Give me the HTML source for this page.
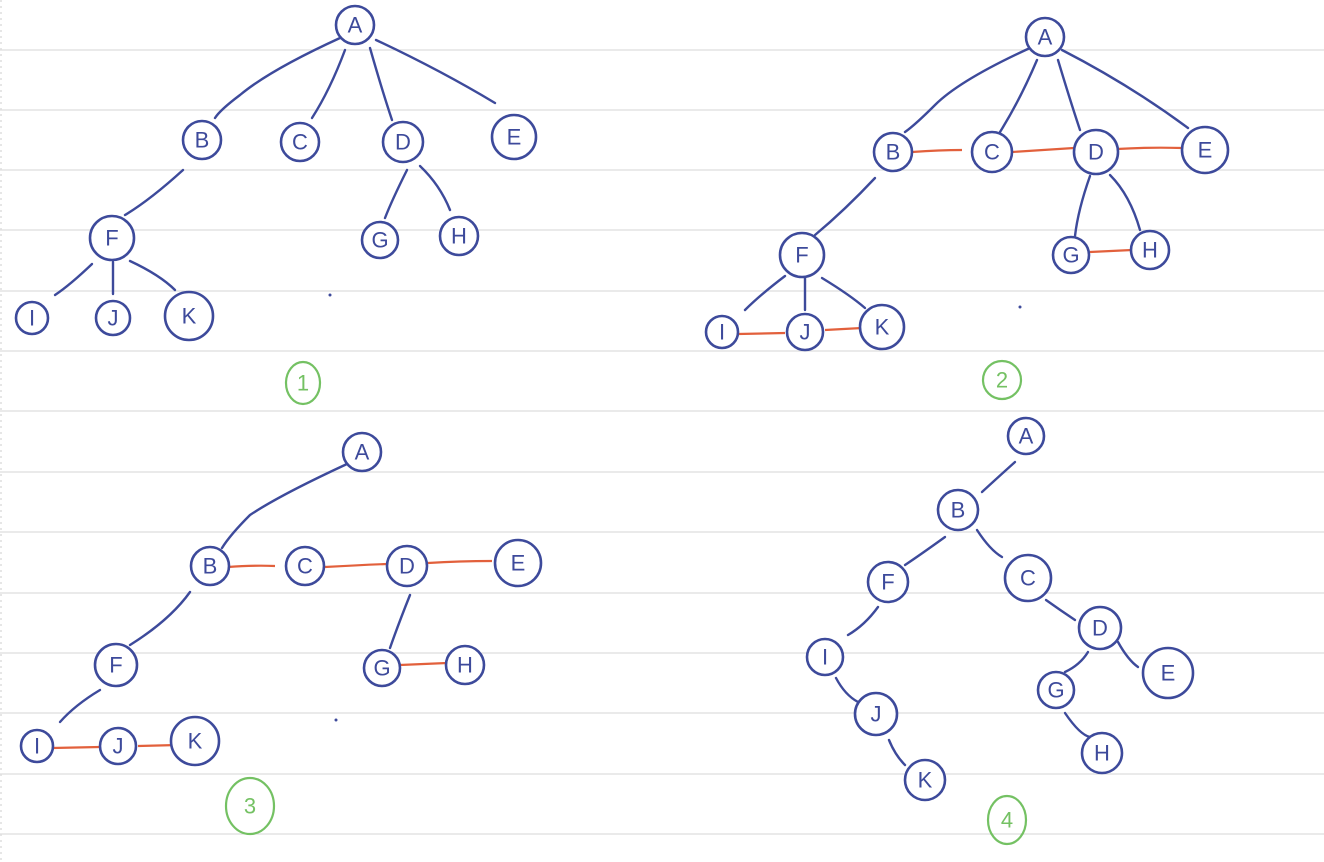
<!DOCTYPE html>
<html><head><meta charset="utf-8"><style>
html,body{margin:0;padding:0;background:#fff;}
svg{display:block}
.n{fill:#fff;stroke:#3d4a9b;stroke-width:2.6}
.e{stroke:#3d4a9b;stroke-width:2.4;fill:none;stroke-linecap:round}
.r{stroke:#e2603c;stroke-width:2.2;fill:none}
.t{font-family:"Liberation Sans",sans-serif;font-size:22px;fill:#3d4a9b;text-anchor:middle;dominant-baseline:central}
.g{fill:none;stroke:#74c163;stroke-width:2.2}
.gt{font-family:"Liberation Sans",sans-serif;font-size:22px;fill:#74c163;text-anchor:middle;dominant-baseline:central}
.h{stroke:#dedede;stroke-width:1.2}
</style></head><body>
<svg width="1324" height="862" viewBox="0 0 1324 862">
<line x1="1" y1="0" x2="1" y2="862" stroke="#ccc" stroke-width="1" stroke-dasharray="2,4"/>
<g class="h">
<line x1="0" y1="50" x2="1324" y2="50"/><line x1="0" y1="110" x2="1324" y2="110"/>
<line x1="0" y1="170" x2="1324" y2="170"/><line x1="0" y1="230" x2="1324" y2="230"/>
<line x1="0" y1="291" x2="1324" y2="291"/><line x1="0" y1="351" x2="1324" y2="351"/>
<line x1="0" y1="411" x2="1324" y2="411"/><line x1="0" y1="472" x2="1324" y2="472"/>
<line x1="0" y1="532" x2="1324" y2="532"/><line x1="0" y1="593" x2="1324" y2="593"/>
<line x1="0" y1="653" x2="1324" y2="653"/><line x1="0" y1="713" x2="1324" y2="713"/>
<line x1="0" y1="774" x2="1324" y2="774"/><line x1="0" y1="834" x2="1324" y2="834"/>
</g>
<!-- panel 1 -->
<g class="e">
<path d="M340 38 Q270 70 240 95 Q220 110 215 118"/>
<path d="M345 50 Q330 90 312 118"/>
<path d="M370 48 Q382 90 392 120"/>
<path d="M376 40 Q440 70 495 103"/>
<path d="M183 170 Q150 200 125 215"/>
<path d="M407 170 Q392 200 385 218"/>
<path d="M420 166 Q440 185 450 210"/>
<path d="M92 264 Q70 285 55 295"/>
<path d="M113 262 L113 294"/>
<path d="M130 261 Q160 275 175 290"/>
</g>
<g>
<circle class="n" cx="355" cy="25" r="19"/><text class="t" x="355" y="25">A</text>
<circle class="n" cx="202" cy="140" r="19"/><text class="t" x="202" y="140">B</text>
<circle class="n" cx="300" cy="142" r="19"/><text class="t" x="300" y="142">C</text>
<circle class="n" cx="403" cy="142" r="20"/><text class="t" x="403" y="142">D</text>
<circle class="n" cx="514" cy="137" r="22"/><text class="t" x="514" y="137">E</text>
<circle class="n" cx="112" cy="238" r="22"/><text class="t" x="112" y="238">F</text>
<circle class="n" cx="380" cy="240" r="18"/><text class="t" x="380" y="240">G</text>
<circle class="n" cx="459" cy="236" r="19"/><text class="t" x="459" y="236">H</text>
<circle class="n" cx="32" cy="318" r="16"/><text class="t" x="32" y="318">I</text>
<circle class="n" cx="113" cy="318" r="17"/><text class="t" x="113" y="318">J</text>
<circle class="n" cx="189" cy="316" r="24"/><text class="t" x="189" y="316">K</text>
</g>
<ellipse class="g" cx="303" cy="383" rx="17" ry="21"/><text class="gt" x="303" y="383">1</text>
<!-- panel 2 -->
<g class="e">
<path d="M1030 48 Q960 80 935 105 Q915 125 905 132"/>
<path d="M1037 60 Q1020 100 1000 132"/>
<path d="M1058 60 Q1070 100 1080 130"/>
<path d="M1062 50 Q1130 85 1188 128"/>
<path d="M875 178 Q845 210 815 235"/>
<path d="M1090 176 Q1078 210 1075 236"/>
<path d="M1110 175 Q1130 195 1140 230"/>
<path d="M785 276 Q760 295 745 310"/>
<path d="M805 278 L805 310"/>
<path d="M822 278 Q850 295 865 308"/>
</g>
<g class="r">
<path d="M912 152 Q940 150 962 150"/><path d="M1012 152 Q1045 150 1074 148"/>
<path d="M1117 149 Q1150 147 1182 148"/><path d="M1090 252 L1132 250"/>
<path d="M738 334 L785 333"/><path d="M825 330 L862 328"/>
</g>
<g>
<circle class="n" cx="1045" cy="37" r="19"/><text class="t" x="1045" y="37">A</text>
<circle class="n" cx="893" cy="152" r="19"/><text class="t" x="893" y="152">B</text>
<circle class="n" cx="992" cy="152" r="20"/><text class="t" x="992" y="152">C</text>
<circle class="n" cx="1096" cy="152" r="22"/><text class="t" x="1096" y="152">D</text>
<circle class="n" cx="1205" cy="150" r="23"/><text class="t" x="1205" y="150">E</text>
<circle class="n" cx="802" cy="255" r="22"/><text class="t" x="802" y="255">F</text>
<circle class="n" cx="1071" cy="255" r="18"/><text class="t" x="1071" y="255">G</text>
<circle class="n" cx="1150" cy="250" r="19"/><text class="t" x="1150" y="250">H</text>
<circle class="n" cx="722" cy="332" r="16"/><text class="t" x="722" y="332">I</text>
<circle class="n" cx="805" cy="332" r="18"/><text class="t" x="805" y="332">J</text>
<circle class="n" cx="882" cy="327" r="22"/><text class="t" x="882" y="327">K</text>
</g>
<ellipse class="g" cx="1002" cy="380" rx="19" ry="19"/><text class="gt" x="1002" y="380">2</text>
<!-- panel 3 -->
<g class="e">
<path d="M347 464 Q280 495 250 515 Q230 535 222 548"/>
<path d="M190 592 Q170 620 130 645"/>
<path d="M100 690 Q75 705 60 722"/>
<path d="M410 595 Q398 625 390 648"/>
</g>
<g class="r">
<path d="M228 567 Q255 565 275 566"/><path d="M325 567 Q360 565 387 564"/>
<path d="M428 563 Q460 561 492 561"/><path d="M400 665 L447 663"/>
<path d="M52 748 L100 747"/><path d="M138 746 L178 745"/>
</g>
<g>
<circle class="n" cx="362" cy="452" r="19"/><text class="t" x="362" y="452">A</text>
<circle class="n" cx="210" cy="566" r="19"/><text class="t" x="210" y="566">B</text>
<circle class="n" cx="305" cy="566" r="19"/><text class="t" x="305" y="566">C</text>
<circle class="n" cx="407" cy="566" r="20"/><text class="t" x="407" y="566">D</text>
<circle class="n" cx="518" cy="563" r="23"/><text class="t" x="518" y="563">E</text>
<circle class="n" cx="116" cy="665" r="21"/><text class="t" x="116" y="665">F</text>
<circle class="n" cx="382" cy="668" r="18"/><text class="t" x="382" y="668">G</text>
<circle class="n" cx="465" cy="665" r="19"/><text class="t" x="465" y="665">H</text>
<circle class="n" cx="37" cy="746" r="16"/><text class="t" x="37" y="746">I</text>
<circle class="n" cx="118" cy="746" r="18"/><text class="t" x="118" y="746">J</text>
<circle class="n" cx="195" cy="741" r="24"/><text class="t" x="195" y="741">K</text>
</g>
<ellipse class="g" cx="250" cy="806" rx="24" ry="28"/><text class="gt" x="250" y="806">3</text>
<!-- panel 4 -->
<g class="e">
<path d="M1015 462 Q995 480 982 492"/>
<path d="M945 537 Q920 555 905 565"/>
<path d="M977 530 Q990 550 1002 557"/>
<path d="M878 607 Q865 625 848 635"/>
<path d="M1046 600 Q1060 610 1075 620"/>
<path d="M1088 652 Q1080 665 1065 672"/>
<path d="M1118 642 Q1128 660 1138 667"/>
<path d="M836 678 Q845 695 858 702"/>
<path d="M1065 713 Q1080 735 1090 737"/>
<path d="M889 740 Q895 755 905 765"/>
</g>
<g>
<circle class="n" cx="1026" cy="436" r="18"/><text class="t" x="1026" y="436">A</text>
<circle class="n" cx="958" cy="510" r="20"/><text class="t" x="958" y="510">B</text>
<circle class="n" cx="1028" cy="578" r="23"/><text class="t" x="1028" y="578">C</text>
<circle class="n" cx="888" cy="582" r="20"/><text class="t" x="888" y="582">F</text>
<circle class="n" cx="1100" cy="628" r="21"/><text class="t" x="1100" y="628">D</text>
<circle class="n" cx="825" cy="657" r="18"/><text class="t" x="825" y="657">I</text>
<circle class="n" cx="1056" cy="690" r="18"/><text class="t" x="1056" y="690">G</text>
<circle class="n" cx="1168" cy="673" r="25"/><text class="t" x="1168" y="673">E</text>
<circle class="n" cx="876" cy="714" r="21"/><text class="t" x="876" y="714">J</text>
<circle class="n" cx="1102" cy="753" r="20"/><text class="t" x="1102" y="753">H</text>
<circle class="n" cx="925" cy="780" r="20"/><text class="t" x="925" y="780">K</text>
</g>
<ellipse class="g" cx="1007" cy="820" rx="19" ry="24"/><text class="gt" x="1007" y="820">4</text>
<circle cx="330" cy="295" r="1.5" fill="#3d4a9b"/>
<circle cx="1020" cy="307" r="1.5" fill="#3d4a9b"/>
<circle cx="336" cy="720" r="1.5" fill="#3d4a9b"/>
</svg>
</body></html>
